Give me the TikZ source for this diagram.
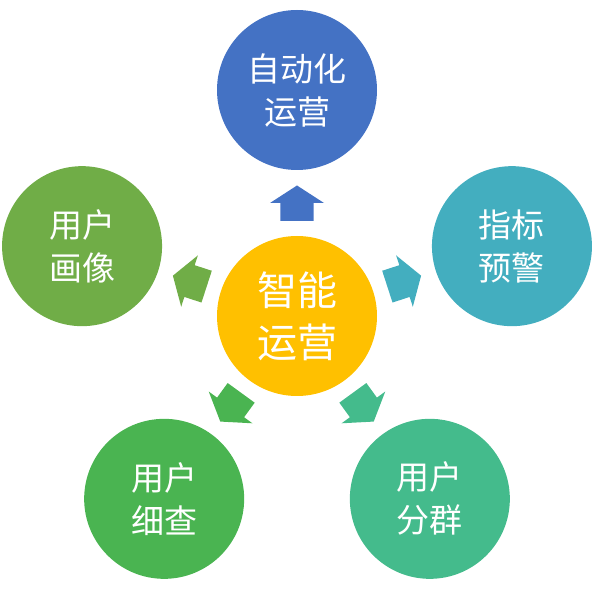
\documentclass[tikz,border=0pt]{standalone}
\usepackage{fontspec}
\newfontfamily\cjk{Noto Sans CJK SC}
\definecolor{cTop}{HTML}{4472C4}
\definecolor{cRight}{HTML}{43AEBF}
\definecolor{cBR}{HTML}{44BB8C}
\definecolor{cBL}{HTML}{4AB451}
\definecolor{cLeft}{HTML}{70AD47}
\definecolor{cHub}{HTML}{FFC000}
\tikzset{
  circ/.style={circle, minimum size=160pt, inner sep=0pt, fill=#1, text=white,
    align=center, font=\cjk\fontsize{33}{43}\selectfont},
  hubcirc/.style={circ=cHub, font=\cjk\fontsize{40}{52}\selectfont},
}
\begin{document}
\begin{tikzpicture}[x=1pt,y=1pt]
\useasboundingbox (0,0) rectangle (594,592);
\coordinate (c) at (297,276);
\node[hubcirc] (hub) at (c) {智能\\运营};
\node[circ=cTop]   (top)   at ([shift={(90:226)}]c)  {自动化\\运营};
\node[circ=cRight] (right) at ([shift={(18:226)}]c)  {指标\\预警};
\node[circ=cBR]    (br)    at ([shift={(-54:226)}]c) {用户\\分群};
\node[circ=cBL]    (bl)    at ([shift={(-126:226)}]c){用户\\细查};
\node[circ=cLeft]  (left)  at ([shift={(162:226)}]c) {用户\\画像};
\foreach \a/\col in {90/cTop,18/cRight,-54/cBR,-126/cBL,162/cLeft}{
  \begin{scope}[shift={(c)}, rotate=\a]
    \fill[\col] (95,-16.7) -- (113,-16.7) -- (113,-27) -- (130.5,0)
      -- (113,27) -- (113,16.7) -- (95,16.7) -- cycle;
  \end{scope}
}
\end{tikzpicture}
\end{document}
